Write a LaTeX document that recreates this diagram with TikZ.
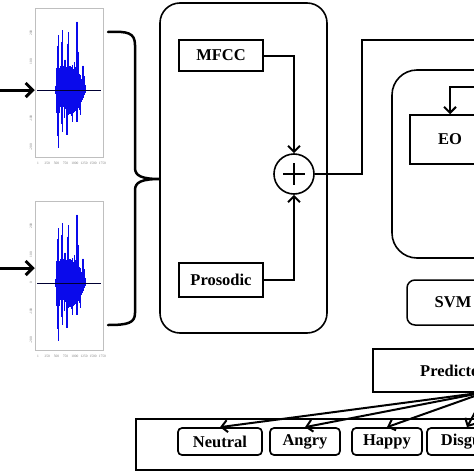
\documentclass[tikz,border=0pt]{standalone}
\usepackage{fontspec}
\setmainfont{Liberation Serif}
\usetikzlibrary{arrows.meta,calc}
\definecolor{wave}{RGB}{10,10,235}
\newcommand{\drawwave}[1]{%
  \foreach \i in {0,...,76}{%
    \pgfmathsetmacro{\wavx}{55.2+0.4*\i}%
    \pgfmathsetmacro{\wavf}{0.35+0.65*abs(sin(\i*97.3))}%
    \pgfmathsetmacro{\wavg}{0.35+0.65*abs(sin(\i*61.7+20))}%
    \pgfmathsetmacro{\wavb}{4+20*max(0,sin(180*(\wavx-55.5)/30))}%
    \pgfmathsetmacro{\wavu}{max(\wavf*\wavb,
      55*max(0,1-abs(\wavx-58)/2), 60*max(0,1-abs(\wavx-62)/2),
      58*max(0,1-abs(\wavx-68)/2), 25*max(0,1-abs(\wavx-72)/2),
      76*max(0,1-abs(\wavx-77)/2), 27*max(0,1-abs(\wavx-83)/2),
      35*max(0,1-abs(\wavx-65)/1.5), 30*max(0,1-abs(\wavx-74.5)/1.5))}%
    \pgfmathsetmacro{\wavd}{max(\wavg*\wavb,
      58*max(0,1-abs(\wavx-58)/2), 42*max(0,1-abs(\wavx-62)/2),
      50*max(0,1-abs(\wavx-67)/2), 32*max(0,1-abs(\wavx-72)/2),
      36*max(0,1-abs(\wavx-77)/2), 25*max(0,1-abs(\wavx-80)/2),
      30*max(0,1-abs(\wavx-64.5)/1.5))}%
    \draw[wave,line width=0.7pt] (\wavx,#1-\wavu) -- (\wavx,#1+\wavd);
  }%
  \draw[black!80!blue,line width=0.9pt] (37,#1) -- (101,#1);
  \foreach \v/\t in {-57/200,-28.5/100,0/0,28.5/-100,57/-200}{%
    \node[tick,rotate=90] at (31,#1+\v) {\t};}
  \foreach \t [count=\k from 0] in {1,250,500,750,1000,1250,1500,1750}{%
    \node[tick] at (38+9.2*\k,#1+73) {\t};}
}
\begin{document}
\begin{tikzpicture}[x=1pt,y=-1pt,
  lbl/.style={font=\bfseries\fontsize{16.5}{18}\selectfont},
  box/.style={draw,line width=1.5pt,lbl,inner sep=0pt},
  ebox/.style={box,rounded corners=4pt,line width=1.7pt},
  conn/.style={line width=2pt},
  arr/.style={conn,-{Straight Barb[length=6pt,width=12pt,line width=2pt]}},
  bigarr/.style={line width=3pt,-{Straight Barb[length=7pt,width=14pt,line width=3pt]}},
  plotframe/.style={draw=gray!50,line width=0.5pt,minimum width=68pt,minimum height=149pt,inner sep=0pt},
  tick/.style={font=\fontsize{3.5}{4}\selectfont,text=gray,inner sep=0pt}]
\clip (0,0) rectangle (474,474);
\fill[white] (0,0) rectangle (474,474);

% signal plots
\node[plotframe] (p1) at (69,82.5) {};
\node[plotframe] (p2) at (69,275.5) {};
\drawwave{90}
\drawwave{283}
\coordinate (in1) at (-2,90);
\coordinate (in2) at (-2,268);
\draw[bigarr] (in1) -- (in1 -| p1.west);
\draw[bigarr] (in2) -- (in2 -| p2.west);

% brace
\draw[line width=2.5pt,line cap=round]
  (108,32) .. controls (128,31) and (135,33) .. (135,45)
  -- (135,168) .. controls (135,176) and (142,179) .. (160,179)
  .. controls (142,179) and (135,182) .. (135,190)
  -- (135,313) .. controls (135,323) and (128,325) .. (108,325);

% feature extraction block
\node[draw,rounded corners=20pt,line width=1.6pt,minimum width=167pt,minimum height=330pt] (feat) at (243.5,168) {};
\node[box,minimum width=84pt,minimum height=31pt] (mfcc) at (221,55.5) {MFCC};
\node[box,minimum width=84pt,minimum height=34pt] (pros) at (221,280) {Prosodic};
\node[draw,circle,line width=1.6pt,minimum size=40pt] (sum) at (294,174) {};
\draw[line width=1.5pt] ($(sum.center)+(-11,0)$) -- ($(sum.center)+(11,0)$);
\draw[line width=1.5pt] ($(sum.center)+(0,-11)$) -- ($(sum.center)+(0,11)$);
\draw[arr] (mfcc.east) -| (sum.north);
\draw[arr] (pros.east) -| (sum.south);

% output line
\coordinate (bend) at (362,40);
\coordinate (out) at (490,40);
\draw[conn] (sum.east) -| (bend) -- (out);

% optimisation block
\node[draw,rounded corners=25pt,line width=1.6pt,minimum width=180pt,minimum height=188pt] (opt) at (482,164) {};
\node[box,minimum width=80pt,minimum height=49pt] (eo) at (450,139.5) {EO};
\coordinate (eoin) at (490,87);
\draw[arr] (eoin) -| (eo.north);

% SVM
\node[box,rounded corners=8pt,minimum width=92pt,minimum height=45pt] (svm) at (453,302.5) {SVM};

% predicted
\node[draw,line width=1.5pt,minimum width=220pt,minimum height=43pt,anchor=west] (pred) at (372,370.5) {};
\node[lbl,anchor=west,inner sep=0pt] (predt) at (420,370.5) {Predicted};

% emotions
\node[draw,line width=1.6pt,minimum width=360pt,minimum height=51pt,anchor=west] (emo) at (135,444.5) {};
\node[ebox,minimum width=84pt,minimum height=27pt] (neu) at (220,441.5) {Neutral};
\node[ebox,minimum width=70pt,minimum height=27pt] (ang) at (305,441.5) {Angry};
\node[ebox,minimum width=70pt,minimum height=27pt] (hap) at (387,441.5) {Happy};
\node[ebox,minimum width=80pt,minimum height=27pt] (dis) at (467,441.5) {Disgust};
\coordinate (src) at (486,392);
\draw[arr] (src) -- (neu.north);
\draw[arr] (src) -- (ang.north);
\draw[arr] (src) -- (hap.north);
\draw[arr] (src) -- (dis.north);
\end{tikzpicture}
\end{document}
